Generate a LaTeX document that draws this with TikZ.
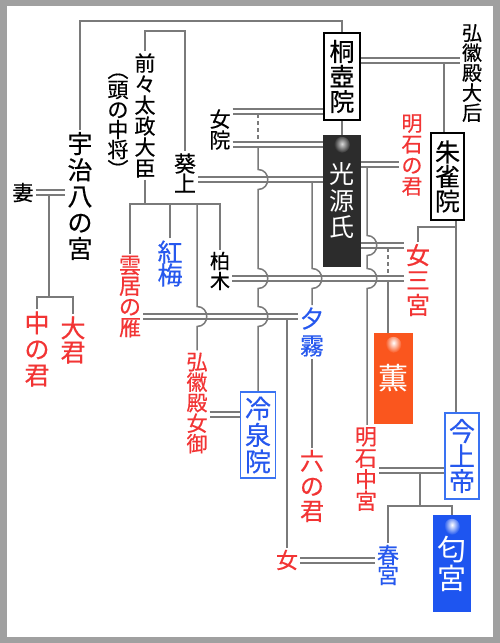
\documentclass[tikz,border=0pt]{standalone}
\usepackage{fontspec}
\newfontfamily\jp{Noto Sans CJK JP}[FakeBold=0.4]
\newfontfamily\jpl{Noto Sans CJK JP}
\usetikzlibrary{backgrounds}
\definecolor{linegray}{RGB}{122,122,122}
\definecolor{framegray}{RGB}{160,160,160}
\definecolor{namered}{RGB}{242,52,52}
\definecolor{nameblue}{RGB}{38,88,238}
\definecolor{boxblue}{RGB}{58,115,242}
\definecolor{genjigray}{RGB}{44,44,44}
\definecolor{kaorured}{RGB}{250,86,30}
\definecolor{nioublue}{RGB}{30,85,240}
\newcommand{\vfnt}[2]{\jp\fontsize{#1}{#2}\selectfont\lineskiplimit=-100pt\relax}
\newcommand{\vfntl}[2]{\jpl\fontsize{#1}{#2}\selectfont\lineskiplimit=-100pt\relax}
\tikzset{
  person/.style={inner sep=2pt, align=center},
  female/.style={person, text=namered},
  blueman/.style={person, text=nameblue},
  framebox/.style={draw, line width=1.3pt, fill=white, inner sep=0pt, align=center},
  fillbox/.style={inner sep=0pt, align=center, text=white},
  link/.style={draw=linegray, line width=1.5pt},
  marry/.style={draw=linegray, double=white, double distance=3.5pt, line width=1.5pt},
}

\begin{document}
\begin{tikzpicture}[x=1pt, y=-1pt]
\begin{scope}[on background layer]
\fill[framegray] (0,0) rectangle (500,643);
\fill[white] (7,6) rectangle (493,637);
\end{scope}
\useasboundingbox (0,0) rectangle (500,643);
% names
\node[person, font=\vfnt{25}{26.25}] (uji) at (80,196) {宇\\治\\八\\の\\宮};
\node[person, font=\vfnt{21}{21}] (tsuma) at (23,192.5) {妻};
\node[female, font=\vfnt{25}{26}] (naka) at (37,349) {中\\の\\君};
\node[female, font=\vfnt{25}{24}] (oo) at (73,340) {大\\君};
\node[person, font=\vfnt{21}{21}] (zenzen) at (145,115.5) {前\\々\\太\\政\\大\\臣};
\node[person, font=\vfnt{21}{20}] (tou) at (118,120) {\vphantom{頭}︵\\頭\\の\\中\\将\\︶\vphantom{頭}};
\node[person, font=\vfnt{22}{20}] (aoi) at (185,173) {葵\\上};
\node[person, font=\vfnt{21}{21}] (nyoin) at (220,129.5) {女\\院};
\node[framebox, minimum width=36pt, minimum height=87pt, font=\vfnt{25}{25}] (kiritsubo) at (342,76.5) {桐\\壺\\院};
\node[fillbox, fill=genjigray, minimum width=38pt, minimum height=132pt, font=\vfntl{25}{26.5}] (genji) at (342,201) {光\\源\\氏};
\node[person, font=\vfnt{20}{20}] (kiko) at (472,73) {弘\\徽\\殿\\大\\后};
\node[framebox, minimum width=33pt, minimum height=87pt, font=\vfnt{25}{24.5}] (suzaku) at (447.5,176.5) {朱\\雀\\院};
\node[female, font=\vfnt{21}{21}] (akashi) at (412,155) {明\\石\\の\\君};
\node[female, font=\vfnt{24}{25}] (onna3) at (418,280) {女\\三\\宮};
\node[fillbox, fill=kaorured, minimum width=39pt, minimum height=91pt, font=\vfntl{30}{30}] (kaoru) at (393.5,378.5) {薫};
\node[blueman, font=\vfnt{25}{23}] (kobai) at (170,263.5) {紅\\梅};
\node[person, font=\vfnt{20}{20}] (kashiwagi) at (220,271) {柏\\木};
\node[female, font=\vfnt{22}{20.7}] (kumoi) at (130,296.5) {雲\\居\\の\\雁};
\node[blueman, font=\vfnt{24}{27}] (yugiri) at (312,332) {夕\\霧};
\node[female, font=\vfnt{21}{20.5}] (kokiden) at (197,403) {弘\\徽\\殿\\女\\御};
\node[framebox, draw=boxblue, text=nameblue, minimum width=35pt, minimum height=86pt, font=\vfnt{26}{26.5}] (reizei) at (258,435) {冷\\泉\\院};
\node[female, font=\vfnt{24}{25}] (roku) at (312,486) {六\\の\\君};
\node[female, font=\vfnt{22}{21.5}] (chugu) at (366,469) {明\\石\\中\\宮};
\node[framebox, draw=boxblue, text=nameblue, minimum width=34pt, minimum height=86pt, font=\vfnt{26}{25}] (kinjo) at (462,456) {今\\上\\帝};
\node[female, font=\vfnt{22}{22}] (onna) at (287,560) {女};
\node[blueman, font=\vfnt{22}{20}] (togu) at (388,565) {春\\宮};
\node[fillbox, fill=nioublue, minimum width=38pt, minimum height=97pt, font=\vfntl{29}{29}] (nioumiya) at (452,563.5) {匂\\宮};
% glow
\shade[inner color=gray!30, outer color=genjigray] (genji.north) ++(0,10) circle (8);
\shade[inner color=white, outer color=kaorured] (kaoru.north) ++(0,12) circle (8);
\shade[inner color=white, outer color=nioublue] (nioumiya.north) ++(0,12) circle (8);
\begin{scope}[on background layer]
% marriages
\draw[marry] (tsuma.east) -- (tsuma.east -| uji.west);
\draw[marry] (kiritsubo.east |- 0,60.5) -- (kiko.west |- 0,60.5);
\draw[marry] (nyoin.east |- 0,111.5) -- (kiritsubo.west |- 0,111.5);
\draw[marry] (nyoin.east |- 0,144.5) -- (genji.west |- 0,144.5);
\draw[marry] (aoi.east |- 0,179.5) -- (genji.west |- 0,179.5);
\draw[marry] (genji.east |- 0,164.5) -- (akashi.west |- 0,164.5);
\draw[marry] (genji.east |- 0,245.5) -- (onna3.west |- 0,245.5);
\draw[marry] (kashiwagi.east |- 0,278.5) -- (onna3.west |- 0,278.5);
\draw[marry] (kumoi.east |- 0,316.5) -- (yugiri.west |- 0,316.5);
\draw[marry] (kokiden.east |- 0,414.5) -- (reizei.west |- 0,414.5);
\draw[marry] (chugu.east |- 0,470.5) -- (kinjo.west |- 0,470.5);
\draw[marry] (onna.east |- 0,560.5) -- (togu.west |- 0,560.5);
% uji
\draw[link] (uji.north) -- (uji.north |- 0,21) -| (kiritsubo.north);
\draw[link] (49,195) -- (49,297);
\draw[link] (naka.north) |- (oo.north |- 0,297) -- (oo.north);
% zenzen
\draw[link] (zenzen.north) |- (aoi.north |- 0,31) -- (aoi.north);
\draw[link] (zenzen.south) -- (zenzen.south |- 0,204);
\draw[link] (kumoi.north) |- (kashiwagi.north |- 0,204) -- (kashiwagi.north);
\draw[link] (kobai.north) -- (kobai.north |- 0,204);
\draw[link] (kokiden.north |- 0,204) -- (kokiden.north |- 0,306.5) .. controls +(13,0) and +(13,0) .. ++(0,20) -- (kokiden.north);
% kiritsubo, suzaku
\draw[link] (kiritsubo.south) -- (genji.north);
\draw[link] (444,63) -- (suzaku.north -| 444,0);
\draw[link] (suzaku.south -| 456,0) -- (kinjo.north -| 456,0);
\draw[link] (onna3.north) |- (456,227);
% reizei
\draw[link, dash pattern=on 4pt off 3pt] (258,114) -- (258,142);
\draw[link] (258,147) -- (258,169.5) .. controls +(13,0) and +(13,0) .. ++(0,20)
  -- (258,268.5) .. controls +(13,0) and +(13,0) .. ++(0,20)
  -- (258,306.5) .. controls +(13,0) and +(13,0) .. ++(0,20) -- (reizei.north);
% yugiri
\draw[link] (312,182) -- (312,268.5) .. controls +(13,0) and +(13,0) .. ++(0,20) -- (yugiri.north);
\draw[link] (yugiri.south) -- (roku.north);
\draw[link] (287,319) -- (onna.north);
% chugu
\draw[link] (367,167) -- (367,235.5) .. controls +(13,0) and +(13,0) .. ++(0,20)
  -- (367,268.5) .. controls +(13,0) and +(13,0) .. ++(0,20) -- (chugu.north -| 367,0);
% kaoru
\draw[link, dash pattern=on 4pt off 3pt] (388,248) -- (388,276);
\draw[link] (388,281) -- (kaoru.north -| 388,0);
% kinjo
\draw[link] (420,473) -- (420,506);
\draw[link] (togu.north) |- (nioumiya.north |- 0,506) -- (nioumiya.north);
\end{scope}
\end{tikzpicture}
\end{document}
